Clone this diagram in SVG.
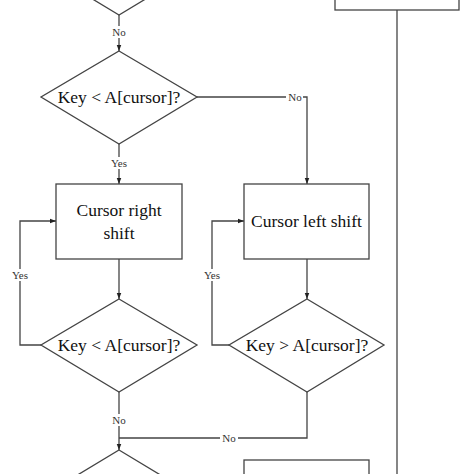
<svg xmlns="http://www.w3.org/2000/svg" width="474" height="474" viewBox="0 0 474 474">
<defs>
<style>
.s{fill:#fff;stroke:#444;stroke-width:1.3}
.c{fill:none;stroke:#444;stroke-width:1.3}
.t{font-family:"Liberation Serif","Times New Roman",serif;font-size:17.5px;fill:#111;text-anchor:middle}
.l{font-family:"Liberation Serif","Times New Roman",serif;font-size:11px;fill:#333;text-anchor:middle}
.bg{fill:#fff}
</style>
<marker id="a" viewBox="0 0 8 8" refX="8" refY="4" markerWidth="6" markerHeight="6" markerUnits="userSpaceOnUse" orient="auto">
<path d="M0,1 L8,4 L0,7 Z" fill="#222"/>
</marker>
</defs>
<rect width="474" height="474" fill="#fff"/>
<g id="connectors">
<path class="c" d="M119,15 V51" marker-end="url(#a)"/>
<path class="c" d="M197,97 H307 V184" marker-end="url(#a)"/>
<path class="c" d="M119,144 V184" marker-end="url(#a)"/>
<path class="c" d="M119,259 V299" marker-end="url(#a)"/>
<path class="c" d="M307,259 V299" marker-end="url(#a)"/>
<path class="c" d="M41,345 H20 V221 H56" marker-end="url(#a)"/>
<path class="c" d="M229,345 H212 V221 H244" marker-end="url(#a)"/>
<path class="c" d="M119,392 V450" marker-end="url(#a)"/>
<path class="c" d="M307,392 V438 H119"/>
<path class="c" d="M397,10 V474"/>
<rect class="bg" x="111" y="26" width="16" height="12"/>
<text class="l" x="119" y="36">No</text>
<rect class="bg" x="286" y="91" width="17" height="12"/>
<text class="l" x="295" y="101">No</text>
<rect class="bg" x="109" y="157" width="20" height="12"/>
<text class="l" x="119" y="167">Yes</text>
<rect class="bg" x="10" y="269" width="20" height="12"/>
<text class="l" x="20" y="279">Yes</text>
<rect class="bg" x="202" y="269" width="20" height="12"/>
<text class="l" x="212" y="279">Yes</text>
<rect class="bg" x="111" y="414" width="16" height="12"/>
<text class="l" x="119" y="424">No</text>
<rect class="bg" x="220" y="432" width="18" height="12"/>
<text class="l" x="229" y="442">No</text>
</g>
<g id="n-top-diamond">
<polygon class="s" points="119,-79 197,-32 119,15 41,-32"/>
</g>
<g id="n-top-box">
<rect class="s" x="335" y="-30" width="124" height="40"/>
</g>
<g id="n-d1">
<polygon class="s" points="119,51 197,97 119,144 41,97"/>
<text class="t" x="119" y="103">Key &lt; A[cursor]?</text>
</g>
<g id="n-right-shift">
<rect class="s" x="56" y="184" width="126" height="75"/>
<text class="t" x="119" y="216">Cursor right</text>
<text class="t" x="119" y="239">shift</text>
</g>
<g id="n-left-shift">
<rect class="s" x="244" y="184" width="125" height="75"/>
<text class="t" x="306.5" y="227">Cursor left shift</text>
</g>
<g id="n-d2">
<polygon class="s" points="119,299 197,345 119,392 41,345"/>
<text class="t" x="119" y="351">Key &lt; A[cursor]?</text>
</g>
<g id="n-d3">
<polygon class="s" points="307,299 384,345 307,392 229,345"/>
<text class="t" x="307" y="351">Key &gt; A[cursor]?</text>
</g>
<g id="n-bottom-diamond">
<polygon class="s" points="119,450 197,497 119,544 41,497"/>
</g>
<g id="n-bottom-box">
<rect class="s" x="244" y="460" width="125" height="40"/>
</g>
</svg>
